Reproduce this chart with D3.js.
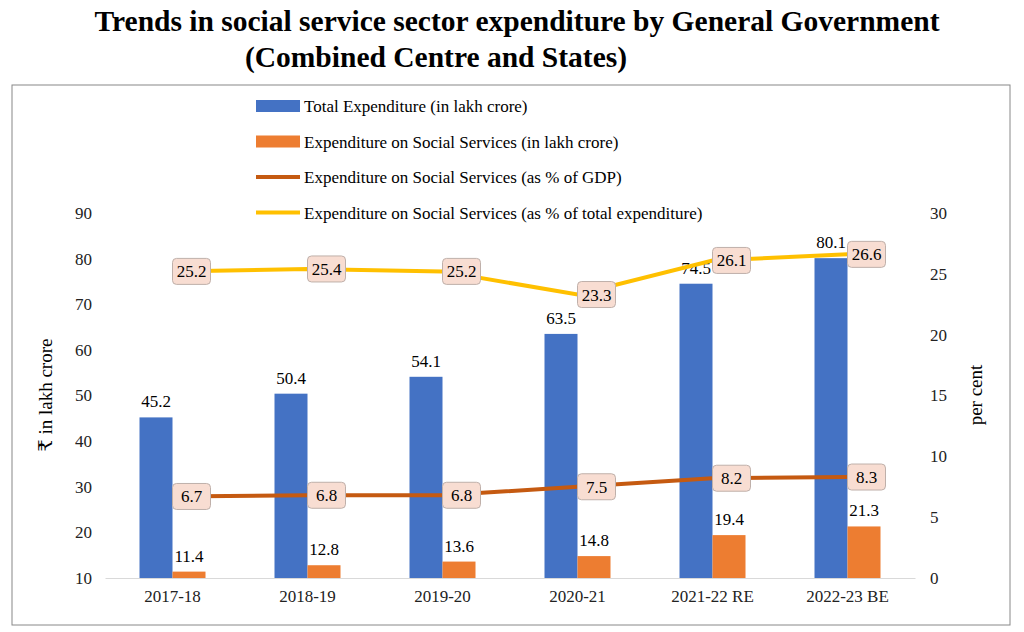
<!DOCTYPE html>
<html><head><meta charset="utf-8">
<script src="https://cdn.jsdelivr.net/npm/d3@7"></script>
<style>body{margin:0;background:#fff}text{font-family:"Liberation Serif","DejaVu Serif",serif}</style>
</head><body>
<script>
const years = ["2017-18", "2018-19", "2019-20", "2020-21", "2021-22  RE", "2022-23 BE"];
const totalExp = [45.2, 50.4, 54.1, 63.5, 74.5, 80.1];
const socialExp = [11.4, 12.8, 13.6, 14.8, 19.4, 21.3];
const pctGdp = [6.7, 6.8, 6.8, 7.5, 8.2, 8.3];
const pctTotal = [25.2, 25.4, 25.2, 23.3, 26.1, 26.6];
const leftTicks = [10, 20, 30, 40, 50, 60, 70, 80, 90];
const rightTicks = [0, 5, 10, 15, 20, 25, 30];

const svg = d3.select("body").append("svg").attr("width", 1024).attr("height", 632);

// titles
svg.append("text").attr("x", 517).attr("y", 31).attr("text-anchor", "middle")
  .attr("font-size", 29.5).attr("font-weight", "bold")
  .text("Trends in social service sector expenditure by General Government");
svg.append("text").attr("x", 436).attr("y", 67).attr("text-anchor", "middle")
  .attr("font-size", 29.5).attr("font-weight", "bold")
  .text("(Combined Centre and States)");

svg.append("rect").attr("x", 12).attr("y", 85).attr("width", 998).attr("height", 540)
  .attr("fill", "none").attr("stroke", "#888").attr("stroke-width", 1);

const x = d3.scaleBand().domain(years).range([105, 915]);
const yL = d3.scaleLinear().domain([10, 90]).range([578, 213]);
const yR = d3.scaleLinear().domain([0, 30]).range([578, 213]);

const axL = svg.append("g").attr("transform", "translate(100,0)")
  .call(d3.axisLeft(yL).tickValues(leftTicks).tickSize(0).tickPadding(8));
const axR = svg.append("g").attr("transform", "translate(922,0)")
  .call(d3.axisRight(yR).tickValues(rightTicks).tickSize(0).tickPadding(8));
const axB = svg.append("g").attr("transform", "translate(0,578)")
  .call(d3.axisBottom(x).tickSize(0).tickPadding(12));
[axL, axR].forEach(a => a.select(".domain").remove());
axB.select(".domain").attr("stroke", "#d9d9d9");
svg.selectAll(".tick text").attr("font-size", 17).attr("fill", "#222")
  .attr("font-family", "Liberation Serif");

svg.append("text").attr("transform", "translate(52,395) rotate(-90)").attr("text-anchor", "middle")
  .attr("font-size", 19).text("₹ in lakh crore");
svg.append("text").attr("transform", "translate(982,395) rotate(-90)").attr("text-anchor", "middle")
  .attr("font-size", 19).text("per cent");

const bw = 33;
const cx = d => x(d) + x.bandwidth() / 2;

svg.selectAll(".tb").data(years).join("rect")
  .attr("x", d => cx(d) - bw).attr("width", bw)
  .attr("y", (d, i) => yL(totalExp[i])).attr("height", (d, i) => yL(10) - yL(totalExp[i]))
  .attr("fill", "#4472c4");
svg.selectAll(".sb").data(years).join("rect")
  .attr("x", d => cx(d)).attr("width", bw)
  .attr("y", (d, i) => yL(socialExp[i])).attr("height", (d, i) => yL(10) - yL(socialExp[i]))
  .attr("fill", "#ed7d31");

svg.selectAll(".tl").data(years).join("text")
  .attr("x", d => cx(d) - bw / 2).attr("y", (d, i) => yL(totalExp[i]) - 10)
  .attr("text-anchor", "middle").attr("font-size", 17).text((d, i) => totalExp[i]);
svg.selectAll(".sl").data(years).join("text")
  .attr("x", d => cx(d) + bw / 2).attr("y", (d, i) => yL(socialExp[i]) - 10)
  .attr("text-anchor", "middle").attr("font-size", 17).text((d, i) => socialExp[i]);

const line = d3.line().x(d => cx(d[0])).y(d => yR(d[1]));
svg.append("path").datum(years.map((d, i) => [d, pctGdp[i]])).attr("d", line)
  .attr("fill", "none").attr("stroke", "#c55a11").attr("stroke-width", 4);
svg.append("path").datum(years.map((d, i) => [d, pctTotal[i]])).attr("d", line)
  .attr("fill", "none").attr("stroke", "#ffc000").attr("stroke-width", 4);

function boxes(vals) {
  const g = svg.append("g").selectAll("g").data(years).join("g")
    .attr("transform", (d, i) => `translate(${cx(d) + 19},${yR(vals[i])})`);
  g.append("rect").attr("x", -19).attr("y", -13).attr("width", 38).attr("height", 26)
    .attr("rx", 4).attr("fill", "#f8ddd2").attr("stroke", "#bfb0aa");
  g.append("text").attr("text-anchor", "middle").attr("dy", 6).attr("font-size", 17)
    .text((d, i) => vals[i].toFixed(1));
}
boxes(pctGdp);
boxes(pctTotal);

const legend = [
  ["Total Expenditure (in lakh crore)", "#4472c4", "bar"],
  ["Expenditure on Social Services (in lakh crore)", "#ed7d31", "bar"],
  ["Expenditure on  Social Services (as % of GDP)", "#c55a11", "line"],
  ["Expenditure on Social Services (as % of total expenditure)", "#ffc000", "line"]
];
legend.forEach((l, i) => {
  const y = 106 + i * 35.5;
  if (l[2] === "bar") svg.append("rect").attr("x", 256).attr("y", y - 6).attr("width", 44).attr("height", 12).attr("fill", l[1]);
  else svg.append("line").attr("x1", 256).attr("x2", 300).attr("y1", y).attr("y2", y).attr("stroke", l[1]).attr("stroke-width", 4);
  svg.append("text").attr("x", 304).attr("y", y + 6).attr("font-size", 17).text(l[0]);
});
</script>
</body></html>
